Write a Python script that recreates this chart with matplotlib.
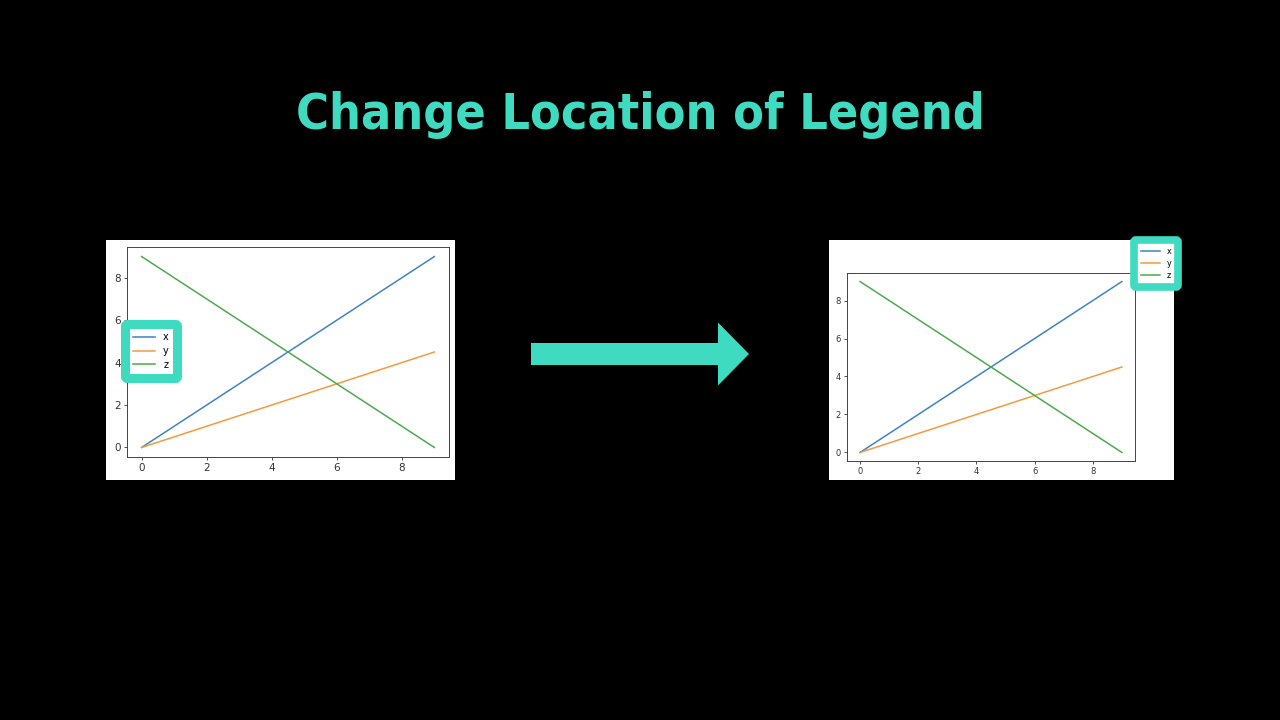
import matplotlib
matplotlib.use('Agg')
import matplotlib.pyplot as plt
from matplotlib.patches import Rectangle, FancyArrow

# data shown in both screenshots
steps = [0, 1, 2, 3, 4, 5, 6, 7, 8, 9]
x_line = [0, 1, 2, 3, 4, 5, 6, 7, 8, 9]
y_line = [0, 0.5, 1, 1.5, 2, 2.5, 3, 3.5, 4, 4.5]
z_line = [9, 8, 7, 6, 5, 4, 3, 2, 1, 0]
labels = ['x', 'y', 'z']
line_colors = ['#3d84c0', '#f29b40', '#4caa4c']
title = 'Change Location of Legend'

teal = '#3fdbc1'
W, H = 1280, 720

fig = plt.figure(figsize=(12.8, 7.2), dpi=100, facecolor='black')

# background layer in pixel coordinates
bg = fig.add_axes([0, 0, 1, 1])
bg.set_xlim(0, W)
bg.set_ylim(H, 0)
bg.axis('off')
bg.set_zorder(-1)
bg.add_patch(Rectangle((106, 240), 349, 240, facecolor='white', edgecolor='none'))
bg.add_patch(Rectangle((829, 240), 345, 240, facecolor='white', edgecolor='none'))
bg.add_patch(FancyArrow(531, 354, 218, 0, width=22, head_width=63, head_length=31,
                        length_includes_head=True, facecolor=teal, edgecolor='none'))
bg.text(640, 129, title, color=teal, fontsize=36, fontweight='bold',
        fontstretch='condensed', family='DejaVu Sans', ha='center', va='baseline')


def px_axes(left, top, right, bottom):
    return fig.add_axes([left / W, 1 - bottom / H, (right - left) / W, (bottom - top) / H])


def draw_plot(ax, tick_size):
    for series, lab, col in zip([x_line, y_line, z_line], labels, line_colors):
        ax.plot(steps, series, label=lab, color=col, linewidth=1.1)
    ax.set_xticks([0, 2, 4, 6, 8])
    ax.set_yticks([0, 2, 4, 6, 8])
    ax.tick_params(labelsize=tick_size, length=2.5, width=0.6, pad=2, colors='#333333')
    for s in ax.spines.values():
        s.set_linewidth(0.7)
        s.set_color('#444444')


# before: legend at center left
ax1 = px_axes(127, 247, 449, 457)
draw_plot(ax1, 7.5)
leg1 = ax1.legend(loc='center', bbox_to_anchor=(151 / W, 1 - 351 / H),
                  bbox_transform=fig.transFigure, fontsize=7, handlelength=2.3,
                  handletextpad=0.8, borderpad=0.8, labelspacing=0.4, framealpha=1)
leg1.get_frame().set_edgecolor(teal)
leg1.get_frame().set_linewidth(6.5)

# after: legend moved outside upper right
ax2 = px_axes(847, 273, 1135, 461)
draw_plot(ax2, 6)
leg2 = ax2.legend(loc='center', bbox_to_anchor=(1156 / W, 1 - 263.5 / H),
                  bbox_transform=fig.transFigure, fontsize=5.8, handlelength=2.4,
                  handletextpad=0.8, borderpad=0.8, labelspacing=0.4, framealpha=1)
leg2.get_frame().set_edgecolor(teal)
leg2.get_frame().set_linewidth(5.5)

fig.savefig('out.png', dpi=100, facecolor='black')
